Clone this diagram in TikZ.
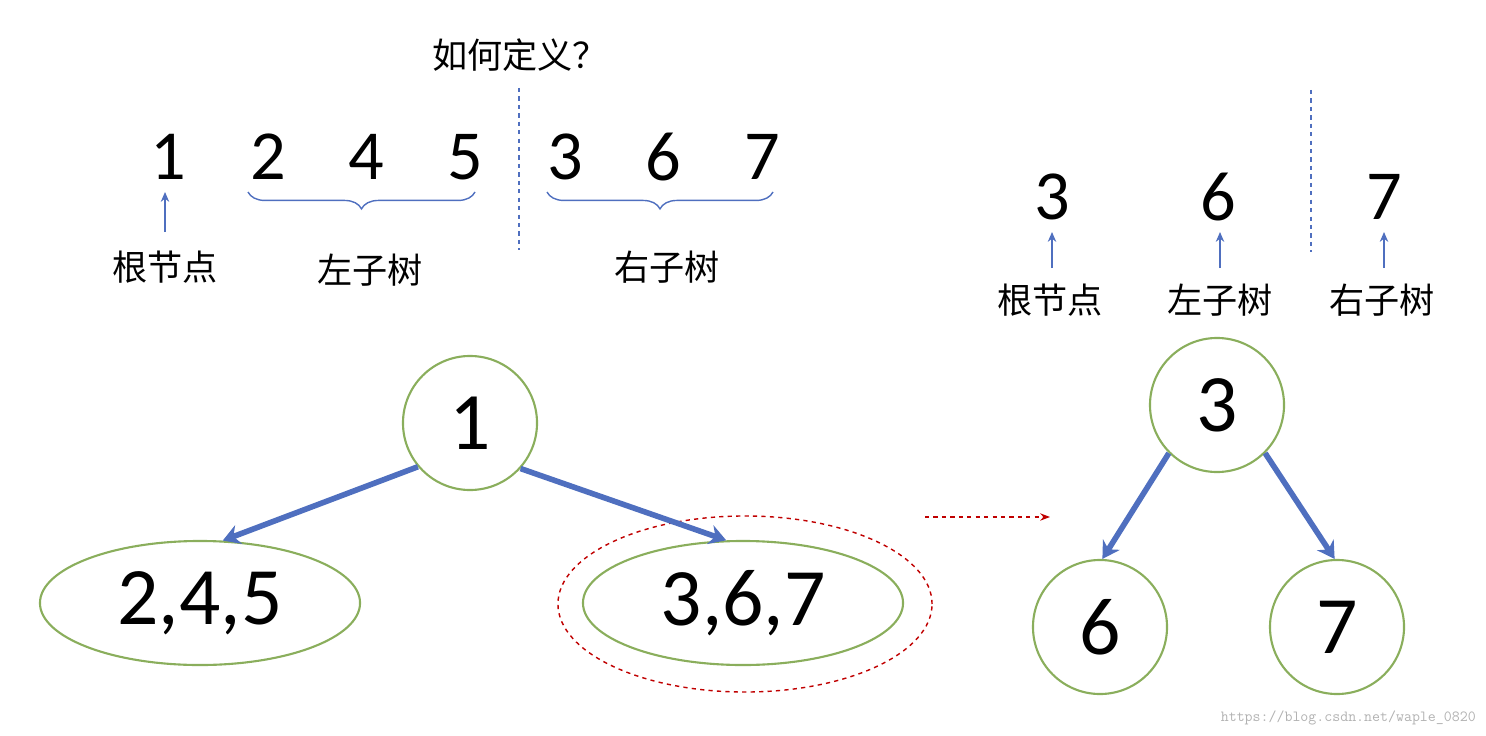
\documentclass[tikz,border=0pt]{standalone}
\usepackage{fontspec}
\setmainfont{Carlito}
\newfontfamily\cjk{Noto Sans CJK SC}
\usetikzlibrary{decorations.pathreplacing,arrows.meta,shapes.geometric}
\definecolor{gr}{HTML}{8AAE5C}
\definecolor{bl}{HTML}{4F6FBF}
\definecolor{rd}{HTML}{C00000}
\tikzset{
  num/.style={font=\fontsize{50}{50}\selectfont, inner sep=0pt},
  lab/.style={font=\cjk\fontsize{25}{25}\selectfont, inner sep=0pt},
  thin arrow/.style={bl, line width=1pt, -{Stealth[length=7pt,width=6pt]}},
  thick arrow/.style={bl, line width=4pt, -{Stealth[length=12pt,width=14pt]}},
  circ/.style={circle, draw=gr, line width=1.5pt, minimum size=3.35cm, font=\fontsize{58}{58}\selectfont},
  ell/.style={ellipse, draw=gr, line width=1.5pt, minimum width=8cm, minimum height=3.1cm, font=\fontsize{58}{58}\selectfont},
  sep/.style={bl, dashed, line width=1pt},
  brc/.style={bl, line width=1pt, decorate, decoration={brace, mirror, amplitude=12pt}}
}
\begin{document}
\begin{tikzpicture}[x=0.025cm,y=-0.025cm]
\useasboundingbox (0,0) rectangle (1486,736);
\node[lab] (q) at (520,55) {如何定义？};
\foreach \n/\x/\t in {n1/168/1,n2/268/2,n4/366/4,n5/465/5,n3/565/3,n6/663/6,n7/762/7}
  \node[num] (\n) at (\x,157) {\t};
\coordinate (s1a) at (519,88); \coordinate (s1b) at (519,250);
\draw[sep] (s1a) -- (s1b);
\node[lab] (l1) at (165,267) {根节点};
\draw[thin arrow] (l1.north |- 0,232) -- (l1.north |- 0,192);
\coordinate (b1a) at (248,192); \coordinate (b1b) at (475,192);
\draw[brc] (b1a) -- (b1b);
\node[lab] (l2) at (370,270) {左子树};
\coordinate (b2a) at (547,192); \coordinate (b2b) at (773,192);
\draw[brc] (b2a) -- (b2b);
\node[lab] (l3) at (667,267) {右子树};
% right top
\node[num] (r3) at (1052,197) {3};
\node[num] (r6) at (1218,197) {6};
\node[num] (r7) at (1384,197) {7};
\coordinate (s2a) at (1311,90); \coordinate (s2b) at (1311,252);
\draw[sep] (s2a) -- (s2b);
\node[lab] (rl1) at (1050,300) {根节点};
\node[lab] (rl2) at (1220,300) {左子树};
\node[lab] (rl3) at (1382,300) {右子树};
\foreach \x in {1052,1220,1384} \draw[thin arrow] (\x,268) -- (\x,232);
% left tree
\node[circ] (c1) at (470,423) {1};
\node[ell] (e1) at (200,603) {2,4,5};
\node[ell] (e2) at (743,603) {3,6,7};
\node[ellipse, draw=rd, dashed, line width=1pt, minimum width=9.35cm, minimum height=4.4cm] (re) at (745,604) {};
\draw[thick arrow] (c1.220) -- (e1.70);
\draw[thick arrow] (c1.-42) -- (e2.105);
\coordinate (ra) at (925,517); \coordinate (rb) at (1050,517);
\draw[rd, dashed, line width=1pt, -{Stealth[length=7pt]}] (ra) -- (rb);
% right tree
\node[circ] (c3) at (1217,405) {3};
\node[circ] (c6) at (1100,627) {6};
\node[circ] (c7) at (1337,627) {7};
\draw[thick arrow] (c3.-135) -- (c6.88);
\draw[thick arrow] (c3.-45) -- (c7.92);
\node[font=\ttfamily\fontsize{11}{11}\selectfont, text=gray!60, anchor=east, inner sep=0pt] (wm) at (1476,718) {https://blog.csdn.net/waple\_0820};
\end{tikzpicture}
\end{document}
